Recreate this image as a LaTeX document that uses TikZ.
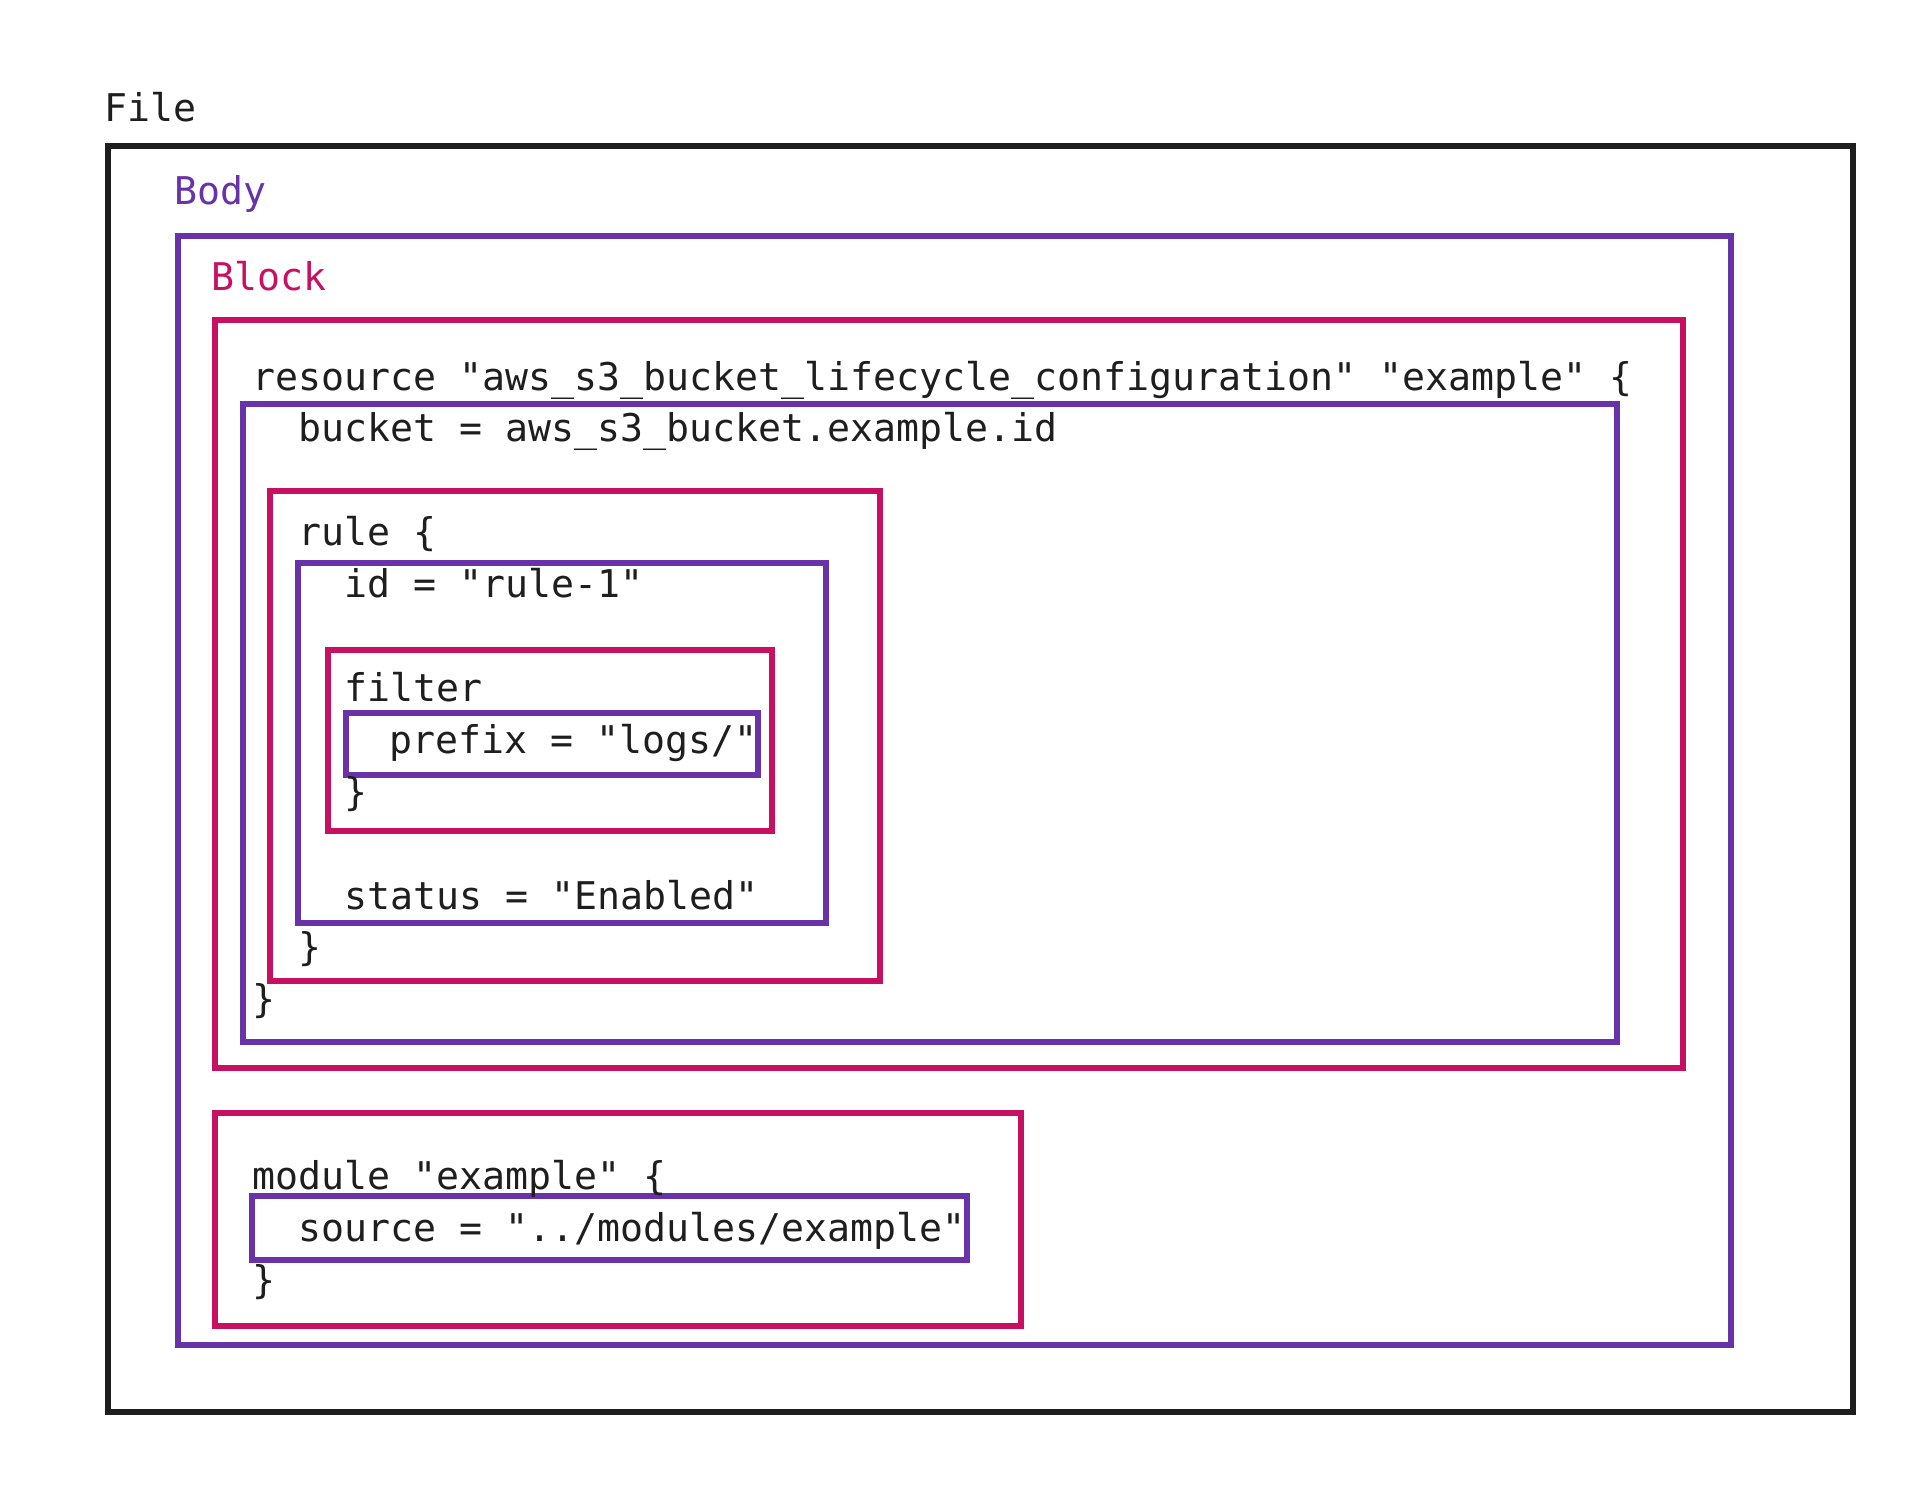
\documentclass[tikz,border=0pt]{standalone}
\usepackage{fontspec}
\setmonofont{DejaVu Sans Mono}
\usepackage{tikz}
\definecolor{bodypurple}{RGB}{104,50,168}
\definecolor{blockred}{RGB}{200,16,98}
\definecolor{filegray}{RGB}{30,30,30}

\begin{document}
\begin{tikzpicture}[x=0.5pt,y=-0.5pt,
                    code/.style={anchor=base west,inner sep=0pt,text=filegray,
                                 font=\ttfamily\fontsize{19.1}{23}\selectfont},
                    filebox/.style={draw=filegray,line width=2.8pt},
                    bodybox/.style={draw=bodypurple,line width=2.8pt},
                    blockbox/.style={draw=blockred,line width=2.8pt}]
  \useasboundingbox (0,0) rectangle (1920,1498);

  % labels
  \node[code]                  (file)  at (104,122) {File};
  \node[code,text=bodypurple]  (body)  at (174,205) {Body};
  \node[code,text=blockred]    (block) at (211,290) {Block};

  % boxes
  \draw[filebox]  (108,146) rectangle (1853,1412);
  \draw[bodybox]  (178,236) rectangle (1731,1345);
  \draw[blockbox] (215,320) rectangle (1683,1068);
  \draw[bodybox]  (243,404) rectangle (1617,1042);
  \draw[blockbox] (270,491) rectangle (880,981);
  \draw[bodybox]  (298,563) rectangle (826,923);
  \draw[blockbox] (328,650) rectangle (772,831);
  \draw[bodybox]  (346,713) rectangle (758,775);
  \draw[blockbox] (215,1113) rectangle (1021,1326);
  \draw[bodybox]  (252,1196) rectangle (967,1260);

  % resource block
  \node[code] (res)      at (252,390)   {resource "aws\_s3\_bucket\_lifecycle\_configuration" "example" \{};
  \node[code] (bucket)   at (298,441.9) {bucket = aws\_s3\_bucket.example.id};
  \node[code] (rule)     at (298,545.7) {rule \{};
  \node[code] (ruleid)   at (344,597.6) {id = "rule-1"};
  \node[code] (filter)   at (344,701.4) {filter};
  \node[code] (prefix)   at (389,753.3) {prefix = "logs/"};
  \node[code] (filtend)  at (344,805.2) {\}};
  \node[code] (status)   at (344,909)   {status = "Enabled"};
  \node[code] (ruleend)  at (298,960.9) {\}};
  \node[code] (resend)   at (252,1012.8) {\}};

  % module block
  \node[code] (module)   at (252,1189)  {module "example" \{};
  \node[code] (source)   at (298,1241)  {source = "../modules/example"};
  \node[code] (modend)   at (252,1293)  {\}};
\end{tikzpicture}
\end{document}
